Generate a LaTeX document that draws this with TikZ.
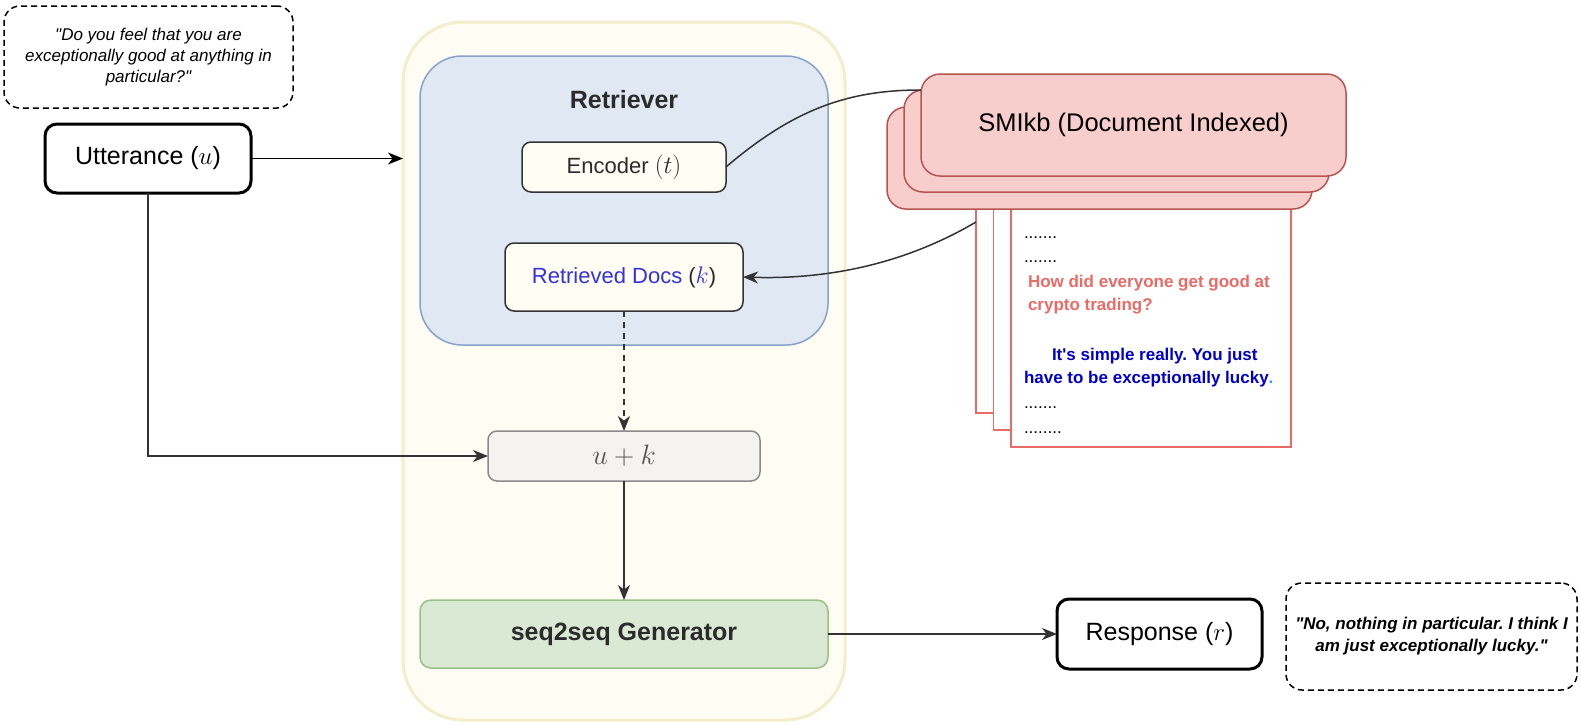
\RequirePackage{fix-cm}
\documentclass[tikz,border=0pt]{standalone}
\usepackage{fontspec}
\setmainfont{Liberation Sans}
\usetikzlibrary{arrows.meta}
\definecolor{contfill}{HTML}{FFFCF3}
\definecolor{contborder}{HTML}{F4EDCC}
\definecolor{retfill}{HTML}{DFE8F3}
\definecolor{retborder}{HTML}{87A3C8}
\definecolor{innerfill}{HTML}{FFFCF3}
\definecolor{darkline}{HTML}{333333}
\definecolor{ukfill}{HTML}{F5F3EF}
\definecolor{ukborder}{HTML}{8A8A8A}
\definecolor{ukgray}{HTML}{555555}
\definecolor{genfill}{HTML}{DAE9D3}
\definecolor{genborder}{HTML}{97C283}
\definecolor{stackfill}{HTML}{F8CECC}
\definecolor{stackborder}{HTML}{B85450}
\definecolor{pageborder}{HTML}{EA6B66}
\definecolor{docblue}{HTML}{3333DD}
\definecolor{textred}{HTML}{EA6B66}
\definecolor{textblue}{HTML}{0000CC}
\definecolor{dotblue}{HTML}{3399FF}
\definecolor{darktext}{HTML}{2B2B2B}
\frenchspacing
\begin{document}
\begin{tikzpicture}[x=1pt,y=-1pt,
  every node/.style={inner sep=0pt, outer sep=0pt},
  termbox/.style={draw=black, line width=3pt, rounded corners=12pt, fill=white,
    font=\fontsize{25}{30}\selectfont},
  quotebox/.style={draw=black, dash pattern=on 6pt off 4pt, line width=1.5pt,
    rounded corners=16pt, align=center, font=\fontsize{17}{21}\selectfont\itshape},
  innerbox/.style={draw=darkline, line width=1.5pt, fill=innerfill, rounded corners=9pt,
    font=\fontsize{22}{26}\selectfont, text=darktext},
  stackbox/.style={draw=stackborder, line width=1.5pt, fill=stackfill, rounded corners=19pt,
    minimum width=425pt, minimum height=102pt},
  pagebox/.style={draw=pageborder, line width=1.5pt, fill=white,
    minimum width=280pt, minimum height=257pt},
  pageline/.style={anchor=base west, font=\fontsize{17}{20}\selectfont\bfseries},
  conn/.style={line width=1.5pt, draw=darkline, -{Stealth[length=15pt,width=12pt,inset=4.5pt]}},
  plainconn/.style={line width=1.5pt, draw=darkline}
]
\useasboundingbox (0,0) rectangle (1581,724);

% outer container
\node[draw=contborder, fill=contfill, line width=3pt, rounded corners=60pt,
  minimum width=442pt, minimum height=698pt] (cont) at (624,371) {};

% retriever
\node[draw=retborder, fill=retfill, line width=1.5pt, rounded corners=42pt,
  minimum width=408pt, minimum height=289pt] (ret) at (624,200.5) {};
\node[font=\fontsize{25}{30}\selectfont\bfseries, text=darktext] (rettitle) at (624,100) {Retriever};
\node[innerbox, minimum width=204pt, minimum height=50pt] (enc) at (624,167)
  {Encoder {\fontsize{25}{30}\selectfont$(t)$}};
\node[innerbox, minimum width=238pt, minimum height=68pt] (docs) at (624,277)
  {\textcolor{docblue}{Retrieved Docs} (\textcolor{docblue}{\fontsize{24}{28}\selectfont$k$})};

% u + k
\node[draw=ukborder, fill=ukfill, line width=1.5pt, rounded corners=9pt,
  minimum width=272pt, minimum height=50pt, text=ukgray,
  font=\fontsize{28}{32}\selectfont] (uk) at (624,456) {$u+k$};

% generator
\node[draw=genborder, fill=genfill, line width=1.5pt, rounded corners=11pt,
  minimum width=408pt, minimum height=68pt, text=darktext,
  font=\fontsize{25}{30}\selectfont\bfseries] (gen) at (624,634) {seq2seq Generator};

% terminals
\node[termbox, minimum width=206pt, minimum height=69pt] (utt) at (148,158.5) {Utterance ($u$)};
\node[termbox, minimum width=205pt, minimum height=70pt] (resp) at (1159.5,634) {Response ($r$)};

% quotes
\node[quotebox, minimum width=289pt, minimum height=102pt] (q1) at (148.5,57)
  {\textquotedbl Do you feel that you are\\exceptionally good at anything in\\particular?\textquotedbl};
\node[quotebox, minimum width=291pt, minimum height=107pt, font=\fontsize{17}{22}\selectfont\itshape\bfseries] (q2) at (1431.5,636.5)
  {\textquotedbl No, nothing in particular. I think I\\am just exceptionally lucky.\textquotedbl};

% document pages
\node[pagebox] (pg3) at (1116,284.5) {};
\node[pagebox] (pg2) at (1133.5,301.5) {};
\node[pagebox] (pg1) at (1151,318.5) {};

% knowledge base stack
\node[stackbox] (kb3) at (1099.5,158) {};
\node[stackbox] (kb2) at (1116.5,141) {};
\node[stackbox, font=\fontsize{25.5}{30}\selectfont] (kb1) at (1133.5,125) {SMIkb (Document Indexed)};

% page text
\node[pageline, font=\fontsize{17}{20}\selectfont] (d1) at (1024,238) {.......};
\node[pageline, font=\fontsize{17}{20}\selectfont] (d2) at (1024,262) {.......};
\node[pageline, text=textred] (l1) at (1028,287) {How did everyone get good at};
\node[pageline, text=textred] (l2) at (1028,310) {crypto trading?};
\node[pageline, text=textblue] (l3) at (1052,360) {It\textquotesingle s simple really. You just};
\node[pageline, text=textblue] (l4) at (1024,383) {have to be exceptionally lucky\textcolor{dotblue}{.}};
\node[pageline, font=\fontsize{17}{20}\selectfont] (d3) at (1024,408) {.......};
\node[pageline, font=\fontsize{17}{20}\selectfont] (d4) at (1024,433) {........};

% connectors
\coordinate (kbin) at (921,90);
\coordinate (kbout) at (976,222);
\draw[conn, draw=black] (utt.east) -- (utt.east -| cont.west);
\draw[conn] (utt.south) |- (uk.west);
\draw[conn, dash pattern=on 6pt off 5pt] (docs.south) -- (uk.north);
\draw[conn] (uk.south) -- (gen.north);
\draw[conn] (gen.east) -- (resp.west);
\draw[plainconn] (enc.east) .. controls (795,108) and (850,90) .. (kbin);
\draw[conn] (kbout) .. controls (915,258) and (840,280) .. (docs.east);
\end{tikzpicture}
\end{document}
